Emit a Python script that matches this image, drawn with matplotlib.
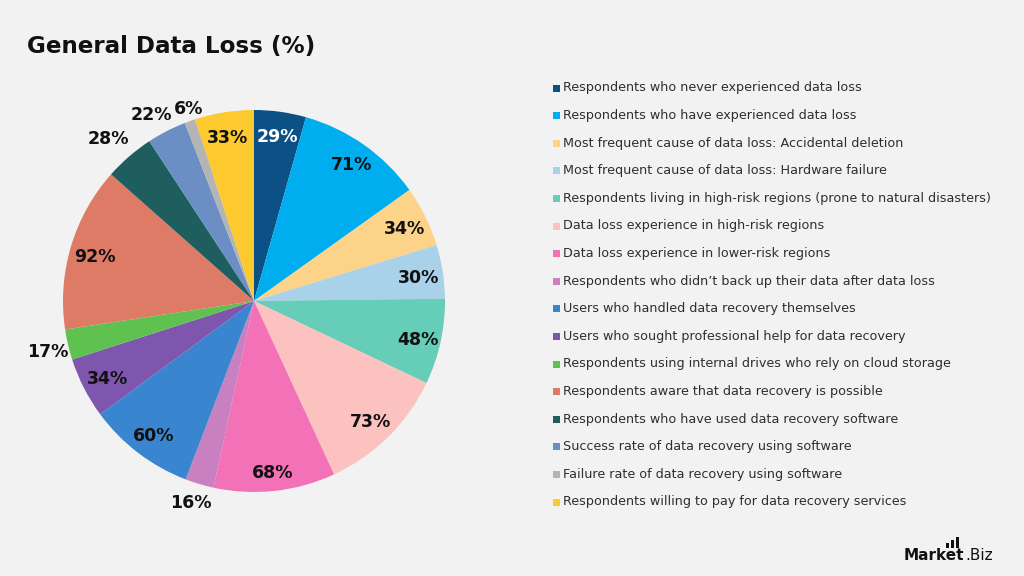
import matplotlib
matplotlib.use("Agg")
import matplotlib.pyplot as plt
from matplotlib.patches import Rectangle
import numpy as np

categories = [
    "Respondents who never experienced data loss",
    "Respondents who have experienced data loss",
    "Most frequent cause of data loss: Accidental deletion",
    "Most frequent cause of data loss: Hardware failure",
    "Respondents living in high-risk regions (prone to natural disasters)",
    "Data loss experience in high-risk regions",
    "Data loss experience in lower-risk regions",
    "Respondents who didn\u2019t back up their data after data loss",
    "Users who handled data recovery themselves",
    "Users who sought professional help for data recovery",
    "Respondents using internal drives who rely on cloud storage",
    "Respondents aware that data recovery is possible",
    "Respondents who have used data recovery software",
    "Success rate of data recovery using software",
    "Failure rate of data recovery using software",
    "Respondents willing to pay for data recovery services",
]
values = [29, 71, 34, 30, 48, 73, 68, 16, 60, 34, 17, 92, 28, 22, 6, 33]
colors = ["#0b5185", "#00aeef", "#fdd38a", "#a9d2ea", "#66cdb8", "#fcc2c0",
          "#f271b7", "#c880c0", "#3a85cf", "#7e56ad", "#5ec150", "#de7b66",
          "#1f5e5e", "#6b8fc4", "#b4b4b4", "#fcc92e"]

# label placement (style): radial distance per slice, in pie radii
label_dist = [0.88, 0.89, 0.88, 0.87, 0.88, 0.87, 0.89, 1.09, 0.87, 0.86,
              1.11, 0.87, 1.14, 1.11, 1.08, 0.88]
# small horizontal nudges (pixels) for crowded outside labels
label_dx = [0, 0, 0, 0, 0, 0, 0, -4, 0, 0, 0, 0, -3, -6, 4, 0]

BG = "#f2f2f2"
W, H = 1024, 576
fig = plt.figure(figsize=(W / 100, H / 100), dpi=100, facecolor=BG)

# pie axes: center (254,301), radius 191 px
cx, cy, r = 254, 301, 191
ax = fig.add_axes([(cx - r) / W, (H - cy - r) / H, 2 * r / W, 2 * r / H])
ax.set_facecolor(BG)
wedges, _ = ax.pie(values, colors=colors, startangle=90, counterclock=False,
                   radius=1.0, wedgeprops=dict(linewidth=0))
ax.set_xlim(-1, 1)
ax.set_ylim(-1, 1)
ax.set_aspect("equal")
ax.axis("off")

for i, (w, v) in enumerate(zip(wedges, values)):
    ang = np.deg2rad((w.theta1 + w.theta2) / 2)
    d = label_dist[i]
    col = "white" if i == 0 else "#111111"
    ax.annotate(f"{v}%", xy=(d * np.cos(ang), d * np.sin(ang)),
                xytext=(label_dx[i] * 0.72, -2), textcoords="offset points",
                ha="center", va="center", fontsize=12.5, fontweight="bold",
                color=col, annotation_clip=False)

# title
fig.text(27 / W, 1 - 47 / H, "General Data Loss (%)", ha="left", va="center",
         fontsize=16.6, fontweight="bold", color="#111111")

# legend
y0, dy = 88, 27.6
for i, (lab, c) in enumerate(zip(categories, colors)):
    y = y0 + i * dy
    fig.patches.append(Rectangle((553 / W, 1 - (y + 3.5) / H), 7 / W, 7 / H,
                                 transform=fig.transFigure, facecolor=c,
                                 edgecolor="none"))
    fig.text(563 / W, 1 - y / H, lab, ha="left", va="center", fontsize=9.2,
             color="#2e2e2e")

# logo
t1 = fig.text(904 / W, 1 - 556 / H, "Market", ha="left", va="center",
              fontsize=11, fontweight="bold", color="#111111")
fig.canvas.draw()
bb = t1.get_window_extent(fig.canvas.get_renderer())
fig.text((bb.x1 + 1) / W, 1 - 556 / H, ".Biz", ha="left", va="center",
         fontsize=11, color="#111111")
for k, hgt in enumerate([5, 8, 11]):
    fig.patches.append(Rectangle(((946 + k * 5) / W, (H - 548) / H), 3 / W, hgt / H,
                                 transform=fig.transFigure, facecolor="#111111",
                                 edgecolor="none"))

fig.savefig("out.png", dpi=100, facecolor=BG)
